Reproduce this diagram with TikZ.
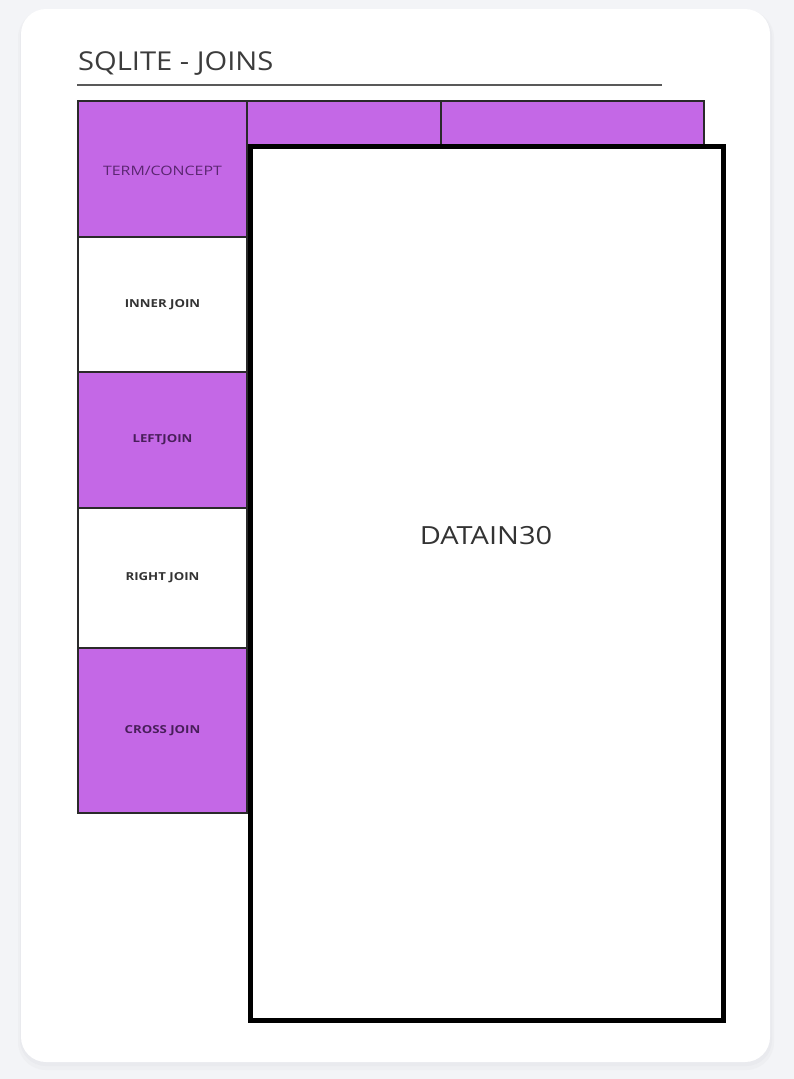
\documentclass[tikz,border=0pt]{standalone}
\usepackage{fontspec}
\usepackage{graphicx}
\setmainfont{Open Sans}
\definecolor{bg}{HTML}{F3F4F7}
\definecolor{shadeA}{HTML}{EEEFF2}
\definecolor{shadeB}{HTML}{E9EAEE}
\definecolor{purp}{HTML}{C468E6}
\definecolor{edge}{HTML}{2A2A2A}
\definecolor{purptext}{HTML}{5A2670}
\definecolor{greytext}{HTML}{333333}
\definecolor{titletext}{HTML}{3C3C3C}
\newcommand{\wideR}[2]{\scalebox{#1}[1]{#2}}
\tikzset{
  cellbox/.style={draw=edge, line width=1.1pt, anchor=north west, inner sep=0pt, outer sep=0pt},
  purpcell/.style={cellbox, fill=purp},
  whitecell/.style={cellbox, fill=white},
  rowlabel/.style={font=\fontsize{11}{13}\selectfont\bfseries, text=greytext},
  purplabel/.style={font=\fontsize{11}{13}\selectfont\bfseries, text=purptext!80!black},
  bigbox/.style={draw=black, line width=5pt, fill=white, anchor=north west, inner sep=0pt, outer sep=0pt}
}
\begin{document}
\begin{tikzpicture}[x=1pt,y=-1pt]
\useasboundingbox (0,0) rectangle (794,1079);
\fill[bg] (0,0) rectangle (794,1079);
% card with soft shadow
\fill[shadeA, rounded corners=28pt] (18,10) rectangle (774,1070);
\fill[shadeB, rounded corners=26pt] (20,11) rectangle (772,1066);
\fill[white, rounded corners=25pt] (21,9) rectangle (770,1062);
% title
\node[anchor=base west, inner sep=0pt, font=\fontsize{26}{30}\selectfont, text=titletext] (title) at (78,70) {\wideR{1.12}{SQLITE - JOINS}};
\coordinate (ulA) at (77,85);
\coordinate (ulB) at (662,85);
\draw[line width=2.4pt, color=black!65] (ulA) -- (ulB);
% header row
\node[purpcell, minimum width=194, minimum height=136] (h2) at (247,101) {};
\node[purpcell, minimum width=263, minimum height=136] (h3) at (441,101) {};
\node[purpcell, minimum width=169, minimum height=136] (term) at (78,101) {};
\node[font=\fontsize{13}{15}\selectfont, text=purptext] (termtxt) at ([yshift=-2]term.center) {\wideR{1.22}{TERM/CONCEPT}};
% rows
\node[whitecell, minimum width=169, minimum height=135] (inner) at (78,237) {};
\node[rowlabel] (innertxt) at (inner.center) {\wideR{1.2}{INNER JOIN}};
\node[purpcell, minimum width=169, minimum height=136] (left) at (78,372) {};
\node[purplabel] (lefttxt) at (left.center) {\wideR{1.2}{LEFTJOIN}};
\node[whitecell, minimum width=169, minimum height=140] (right) at (78,508) {};
\node[rowlabel] (righttxt) at (right.center) {\wideR{1.2}{RIGHT JOIN}};
\node[purpcell, minimum width=169, minimum height=165] (cross) at (78,648) {};
\node[purplabel] (crosstxt) at (cross.center) {\wideR{1.2}{CROSS JOIN}};
% big overlay box
\node[bigbox, minimum width=473, minimum height=874] (big) at (250,146) {};
\node[font=\fontsize{25}{29}\selectfont, text=greytext] (data) at (486,536) {\wideR{1.16}{DATAIN30}};
\end{tikzpicture}
\end{document}
